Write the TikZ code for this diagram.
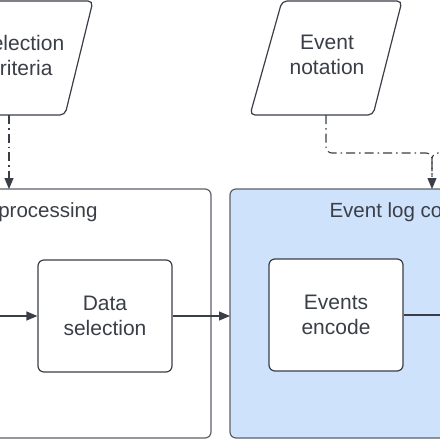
\documentclass[tikz,border=0pt]{standalone}
\usepackage{fontspec}
\setmainfont{Liberation Sans}
\usetikzlibrary{arrows.meta}
\definecolor{ink}{HTML}{3A3F47}
\definecolor{frame}{HTML}{5C6169}
\definecolor{lblue}{HTML}{CFE2FB}
\tikzset{
  txt/.style={text=ink, align=center, font=\fontsize{21}{25}\selectfont},
  ttl/.style={text=ink, font=\fontsize{20.5}{25}\selectfont},
  para/.style={draw=ink, line width=1.2pt, rounded corners=5pt, fill=white},
  group/.style={draw=frame, line width=1.2pt, rounded corners=6pt},
  proc/.style={draw=ink, line width=1.2pt, rounded corners=6pt, fill=white, minimum width=134pt, minimum height=112pt, txt},
  conn/.style={draw=ink, line width=1.2pt, -{Triangle[length=11pt,width=9pt]}},
  plain/.style={draw=ink, line width=1.2pt},
  dd/.style={draw=ink, line width=1.1pt, dash pattern=on 9pt off 4pt on 1.5pt off 4pt}
}
\begin{document}
\begin{tikzpicture}[x=1pt,y=-1pt]
\useasboundingbox (0,0) rectangle (440,440);
\fill[white] (0,0) rectangle (440,440);
% containers
\draw[group, fill=white] (-200,189) rectangle (211,438);
\draw[group, fill=lblue] (230,189) rectangle (650,438);
\node[ttl, anchor=east] (pretitle) at (101,212) {Preprocessing};
\node[ttl, anchor=west] (evtitle) at (326,212) {Event log construction};
% parallelograms
\draw[para] (-27,1) -- (93,1) -- (65,115) -- (-55,115) -- cycle;
\node[txt] (selcrit) at (21,55) {Selection\\criteria};
\draw[para] (282,1) -- (402,1) -- (373,115) -- (250,115) -- cycle;
\node[txt] (evnot) at (327,55) {Event\\notation};
\coordinate (selb) at (9,115);
\coordinate (grp1top) at (9,189);
\coordinate (evb) at (326,115);
\coordinate (grp2top) at (432,189);
\coordinate (rightin) at (470,153);
% process boxes
\node[proc] (ds) at (105,316) {Data\\selection};
\node[proc] (ee) at (336,315) {Events\\encode};
\coordinate (leftin) at (-20,316);
\coordinate (g2left) at (230,316);
\coordinate (rightout) at (470,315);
% connectors
\draw[dd, -{Triangle[length=11pt,width=9pt]}] (selb) -- (grp1top);
\draw[dd, rounded corners=6pt, -{Triangle[length=11pt,width=9pt]}] (evb) |- (432,153) -- (grp2top);
\draw[dd, rounded corners=6pt] (rightin) -| (432,175);
\draw[conn] (leftin) -- (ds.west);
\draw[conn] (ds.east) -- (g2left);
\draw[plain] (ee.east) -- (rightout);
\end{tikzpicture}
\end{document}
